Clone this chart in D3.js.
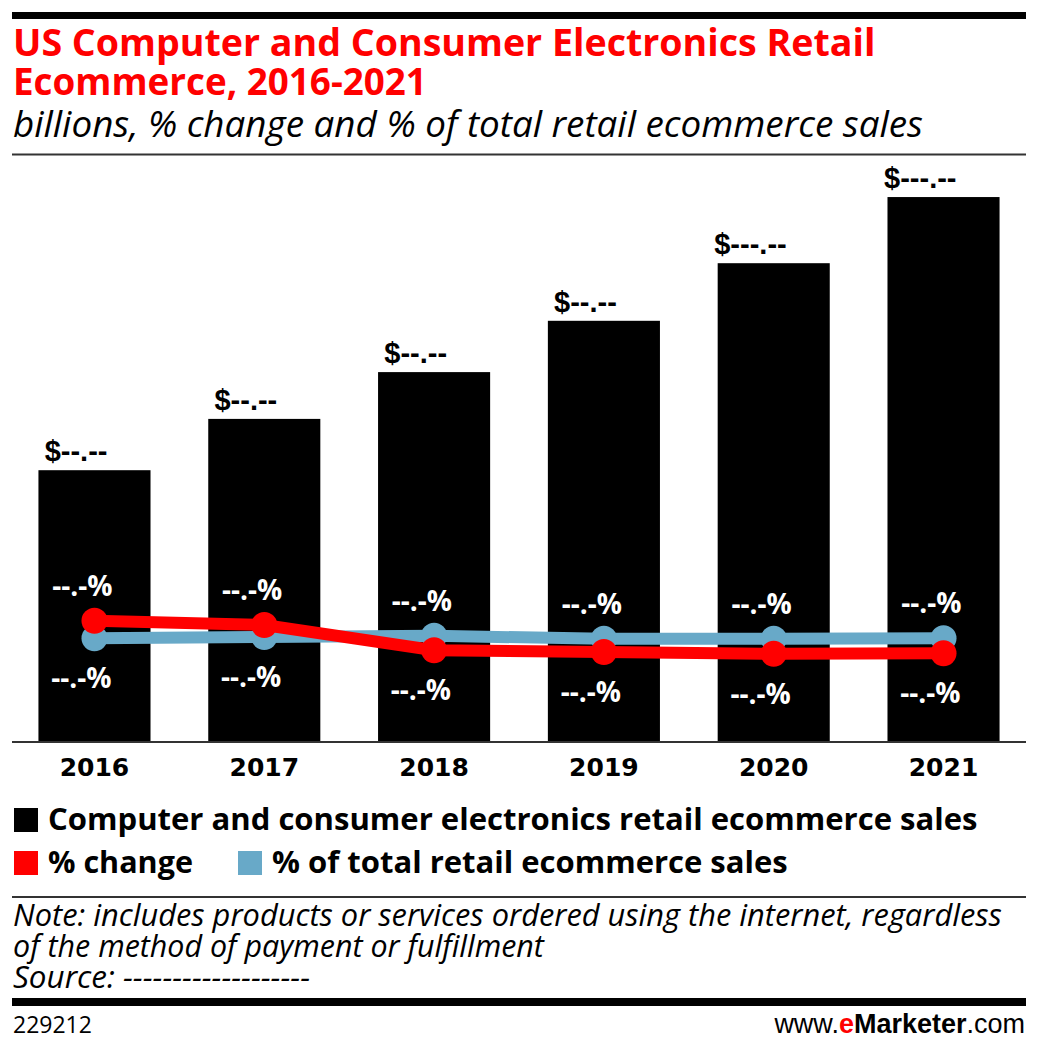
<!DOCTYPE html>
<html>
<head>
<meta charset="utf-8">
<script src="https://cdn.jsdelivr.net/npm/d3@7"></script>
<style>
  html, body { margin: 0; padding: 0; background: #fff; }
  svg { display: block; }
</style>
</head>
<body>
<script>
// data (hidden values shown as dashes)
var years = ['2016', '2017', '2018', '2019', '2020', '2021'];
var salesValues = [60.4, 71.8, 82.2, 93.6, 106.4, 121.1];
var salesLabels = ['$--.--', '$--.--', '$--.--', '$--.--', '$---.--', '$---.--'];
var pctChange = [20.2, 19.5, 15.3, 15.0, 14.7, 14.8];
var pctOfTotal = [17.3, 17.5, 17.7, 17.2, 17.2, 17.3];
var pctLabels = ['--.-%', '--.-%', '--.-%', '--.-%', '--.-%', '--.-%'];

var titleLines = ['US Computer and Consumer Electronics Retail', 'Ecommerce, 2016-2021'];
var subtitle = 'billions, % change and % of total retail ecommerce sales';
var legendItems = [
  {name: 'Computer and consumer electronics retail ecommerce sales', color: '#000'},
  {name: '% change', color: '#ff0000'},
  {name: '% of total retail ecommerce sales', color: '#68a9c8'}
];
var noteLines = [
  'Note: includes products or services ordered using the internet, regardless',
  'of the method of payment or fulfillment',
  'Source: -------------------'
];

var W = 1038, H = 1051;
var red = '#ff0000', blue = '#68a9c8';
var sans = '"Open Sans", "DejaVu Sans", sans-serif';

var svg = d3.select('body').append('svg')
  .attr('width', W)
  .attr('height', H);

// scale a text so its width matches the picture
var fit = function(sel, width) {
  var w = sel.node().getComputedTextLength();
  var fs = parseFloat(sel.attr('font-size'));
  sel.attr('font-size', (fs * width / w).toFixed(2));
};

// header
svg.append('rect').attr('x', 12).attr('y', 12).attr('width', 1014).attr('height', 7).attr('fill', '#000');

titleLines.forEach(function(t, i) {
  var tx = svg.append('text')
    .attr('x', 13).attr('y', 56 + i * 39)
    .attr('font-family', sans).attr('font-weight', 700)
    .attr('font-size', 35).attr('fill', red)
    .text(t);
  fit(tx, i == 0 ? 863 : 414);
});

var sub = svg.append('text')
  .attr('x', 13).attr('y', 137)
  .attr('font-family', sans).attr('font-style', 'italic')
  .attr('font-size', 31).attr('fill', '#000')
  .text(subtitle);
fit(sub, 910);

svg.append('line').attr('x1', 12).attr('x2', 1026).attr('y1', 154.5).attr('y2', 154.5)
  .attr('stroke', '#333').attr('stroke-width', 2);

// scales
var x = d3.scaleBand().domain(years).range([10, 1028]).paddingInner(0.34).paddingOuter(0.1675);
var y = d3.scaleLinear().domain([0, 130]).range([742, 157]);
var yPct = d3.scaleLinear().domain([0, 25]).range([742, 592]);
var cx = function(d, i) { return x(years[i]) + x.bandwidth() / 2; };

// bars
svg.append('g').selectAll('rect')
  .data(salesValues)
  .join('rect')
  .attr('x', function(d, i) { return x(years[i]); })
  .attr('y', function(d) { return y(d); })
  .attr('width', x.bandwidth())
  .attr('height', function(d) { return y(0) - y(d); })
  .attr('fill', '#000');

svg.append('g').selectAll('text')
  .data(salesValues)
  .join('text')
  .attr('x', function(d, i) { return cx(d, i) + 13; })
  .attr('y', function(d) { return y(d) - 9; })
  .attr('text-anchor', 'end')
  .attr('font-family', '"Liberation Sans", Arial, sans-serif')
  .attr('font-weight', 700).attr('font-size', 29)
  .text(function(d, i) { return salesLabels[i]; });

// axis
var xAxis = svg.append('g')
  .attr('transform', 'translate(0,742)')
  .call(d3.axisBottom(x).tickSize(0).tickPadding(0));
xAxis.select('.domain').remove();
xAxis.selectAll('text')
  .attr('font-family', '"DejaVu Sans", sans-serif')
  .attr('font-weight', 700).attr('font-size', 25).attr('fill', '#000')
  .attr('y', 34).attr('dy', 0);
svg.append('line').attr('x1', 12).attr('x2', 1026).attr('y1', 742).attr('y2', 742)
  .attr('stroke', '#333').attr('stroke-width', 2);

// lines
var line = d3.line()
  .x(function(d, i) { return cx(d, i); })
  .y(function(d) { return yPct(d); });

[[pctOfTotal, blue], [pctChange, red]].forEach(function(s) {
  var g = svg.append('g');
  g.append('path').datum(s[0])
    .attr('d', line)
    .attr('fill', 'none')
    .attr('stroke', s[1])
    .attr('stroke-width', 12);
  g.selectAll('circle').data(s[0]).join('circle')
    .attr('cx', cx)
    .attr('cy', function(d) { return yPct(d); })
    .attr('r', 13)
    .attr('fill', s[1]);
});

// percent labels: one above the upper point, one below the lower point
var lbl = svg.append('g')
  .attr('font-family', sans).attr('font-weight', 700)
  .attr('font-size', 28).attr('fill', '#fff')
  .attr('text-anchor', 'end');
years.forEach(function(yr, i) {
  var a = yPct(pctChange[i]), b = yPct(pctOfTotal[i]);
  lbl.append('text')
    .attr('x', cx(null, i) + 18).attr('y', Math.min(a, b) - 25)
    .text(pctLabels[i]);
  lbl.append('text')
    .attr('x', cx(null, i) + 17).attr('y', Math.max(a, b) + 50)
    .text(pctLabels[i]);
});

// legend
var legendPos = [[14, 808], [14, 851], [238, 851]];
var legendW = [930, 145, 516];
legendItems.forEach(function(d, i) {
  var p = legendPos[i];
  svg.append('rect').attr('x', p[0]).attr('y', p[1]).attr('width', 24).attr('height', 24).attr('fill', d.color);
  var t = svg.append('text')
    .attr('x', p[0] + 34).attr('y', p[1] + 22)
    .attr('font-family', sans).attr('font-weight', 700)
    .attr('font-size', 29).attr('fill', '#000')
    .text(d.name);
  fit(t, legendW[i]);
});

svg.append('line').attr('x1', 12).attr('x2', 1026).attr('y1', 897).attr('y2', 897)
  .attr('stroke', '#333').attr('stroke-width', 2);

// notes
var noteW = [989, 531, 297];
noteLines.forEach(function(t, i) {
  var n = svg.append('text')
    .attr('x', 13).attr('y', 926 + i * 31)
    .attr('font-family', sans).attr('font-style', 'italic')
    .attr('font-size', 28).attr('fill', '#000')
    .text(t);
  fit(n, noteW[i]);
});

svg.append('rect').attr('x', 12).attr('y', 998).attr('width', 1014).attr('height', 8).attr('fill', '#000');

// footer
svg.append('text')
  .attr('x', 13).attr('y', 1033)
  .attr('font-family', sans).attr('font-size', 23)
  .text('229212');

var brand = svg.append('text')
  .attr('x', 1025).attr('y', 1033)
  .attr('text-anchor', 'end')
  .attr('font-family', '"Liberation Sans", Arial, sans-serif')
  .attr('font-size', 27);
brand.append('tspan').text('www.');
brand.append('tspan').attr('fill', red).attr('font-weight', 700).text('e');
brand.append('tspan').attr('font-weight', 700).text('Marketer');
brand.append('tspan').text('.com');
</script>
</body>
</html>
